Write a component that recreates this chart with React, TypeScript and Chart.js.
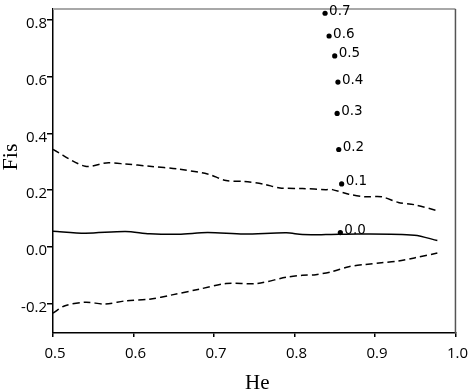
import React, { useEffect, useRef } from "react";
import { Chart, registerables } from "chart.js";

Chart.register(...registerables);

// Mean Fis curve
const heMean = [0.5, 0.54, 0.59, 0.62, 0.656, 0.692, 0.737, 0.79, 0.81, 0.839, 0.88, 0.949, 0.9775];
const fisMean = [0.056, 0.049, 0.055, 0.047, 0.045, 0.051, 0.046, 0.05, 0.044, 0.044, 0.046, 0.042, 0.023];

// Upper confidence limit
const heUpper = [0.5, 0.54, 0.566, 0.59, 0.62, 0.656, 0.692, 0.715, 0.737, 0.762, 0.782, 0.81, 0.839, 0.847, 0.8675, 0.888, 0.908, 0.929, 0.949, 0.9775];
const fisUpper = [0.343, 0.284, 0.296, 0.292, 0.284, 0.274, 0.257, 0.234, 0.231, 0.221, 0.208, 0.206, 0.202, 0.202, 0.186, 0.177, 0.177, 0.157, 0.149, 0.128];

// Lower confidence limit
const heLower = [0.5, 0.515, 0.54, 0.565, 0.59, 0.62, 0.648, 0.68, 0.715, 0.753, 0.79, 0.81, 0.8265, 0.847, 0.8675, 0.888, 0.908, 0.929, 0.949, 0.9775];
const fisLower = [-0.232, -0.206, -0.194, -0.2, -0.189, -0.183, -0.168, -0.149, -0.128, -0.128, -0.106, -0.099, -0.097, -0.086, -0.069, -0.061, -0.055, -0.049, -0.038, -0.021];

// Labelled points
const pointLabels = ["0.0", "0.1", "0.2", "0.3", "0.4", "0.5", "0.6", "0.7"];
const pointHe = [0.857, 0.8586, 0.855, 0.853, 0.854, 0.85, 0.843, 0.838];
const pointFis = [0.051, 0.222, 0.343, 0.47, 0.58, 0.672, 0.742, 0.822];

const xTicks = [0.5, 0.6, 0.7, 0.8, 0.9, 1.0];
const yTicks = [-0.2, 0.0, 0.2, 0.4, 0.6, 0.8];
const xTitle = "He";
const yTitle = "Fis";

const decor = {
  id: "decor",
  afterDraw(chart: any) {
    const { ctx, chartArea: a, scales } = chart;
    ctx.save();
    // top border (grey)
    ctx.strokeStyle = "#a8a8a8";
    ctx.lineWidth = 2;
    ctx.beginPath();
    ctx.moveTo(a.left, a.top);
    ctx.lineTo(a.right, a.top);
    ctx.stroke();
    // right border
    ctx.strokeStyle = "#555";
    ctx.lineWidth = 1.5;
    ctx.beginPath();
    ctx.moveTo(a.right, a.top);
    ctx.lineTo(a.right, a.bottom);
    ctx.stroke();
    // point labels
    ctx.fillStyle = "#000";
    ctx.font = '13.5px "DejaVu Sans"';
    ctx.textAlign = "left";
    ctx.textBaseline = "alphabetic";
    pointLabels.forEach((t, i) => {
      const px = scales.x.getPixelForValue(pointHe[i]);
      const py = scales.y.getPixelForValue(pointFis[i]);
      ctx.fillText(t, px + 4, py + 1.5);
    });
    // axis titles
    ctx.font = '21px "Liberation Serif"';
    ctx.textAlign = "center";
    ctx.fillText(xTitle, (a.left + a.right) / 2 + 3, 389);
    ctx.translate(17, 157);
    ctx.rotate(-Math.PI / 2);
    ctx.font = '22px "Liberation Serif"';
    ctx.fillText(yTitle, 0, 0);
    ctx.restore();
  },
};

export default function App() {
  const ref = useRef<HTMLCanvasElement>(null);
  useEffect(() => {
    if (!ref.current) return;
    const lineStyle = {
      showLine: true,
      pointRadius: 0,
      borderColor: "#000",
      borderWidth: 1.5,
      tension: 0.3,
      fill: false,
    };
    const chart = new Chart(ref.current, {
      type: "scatter",
      data: {
        datasets: [
          { ...lineStyle, data: heMean.map((x, i) => ({ x, y: fisMean[i] })) },
          { ...lineStyle, borderDash: [7, 4], data: heUpper.map((x, i) => ({ x, y: fisUpper[i] })) },
          { ...lineStyle, borderDash: [7, 4], data: heLower.map((x, i) => ({ x, y: fisLower[i] })) },
          {
            showLine: false,
            pointRadius: 2.6,
            pointBackgroundColor: "#000",
            pointBorderColor: "#000",
            pointBorderWidth: 0,
            data: pointHe.map((x, i) => ({ x, y: pointFis[i] })),
          },
        ],
      },
      options: {
        responsive: false,
        animation: false,
        devicePixelRatio: 1,
        layout: { padding: { left: 0, right: 12, top: 1, bottom: 0 } },
        plugins: { legend: { display: false }, tooltip: { enabled: false } },
        scales: {
          x: {
            type: "linear",
            min: 0.5,
            max: 1.0,
            afterBuildTicks: (s: any) => {
              s.ticks = xTicks.map((v) => ({ value: v }));
            },
            afterFit: (s: any) => {
              s.height = 57;
            },
            grid: { drawOnChartArea: false, drawTicks: true, tickLength: 4, color: "#000", lineWidth: 1.5 },
            border: { display: true, color: "#000", width: 1.5 },
            ticks: {
              color: "#000",
              font: { family: "Open Sans", size: 15 },
              padding: 8,
              labelOffset: 2,
              maxRotation: 0,
              autoSkip: false,
              callback: (v: any) => Number(v).toFixed(1),
            },
          },
          y: {
            type: "linear",
            min: -0.302,
            max: 0.837,
            afterBuildTicks: (s: any) => {
              s.ticks = yTicks.map((v) => ({ value: v }));
            },
            afterFit: (s: any) => {
              s.width = 53;
            },
            grid: { drawOnChartArea: false, drawTicks: true, tickLength: 6, color: "#000", lineWidth: 1.5 },
            border: { display: true, color: "#000", width: 1.5 },
            ticks: {
              color: "#000",
              font: { family: "Open Sans", size: 15 },
              padding: 0,
              labelOffset: 4,
              autoSkip: false,
              callback: (v: any) => Number(v).toFixed(1),
            },
          },
        },
      },
      plugins: [decor],
    } as any);
    return () => chart.destroy();
  }, []);
  return (
    <div style={{ position: "absolute", left: 0, top: 0, width: 474, height: 390, background: "#fff" }}>
      <canvas ref={ref} width={474} height={390} />
    </div>
  );
}
